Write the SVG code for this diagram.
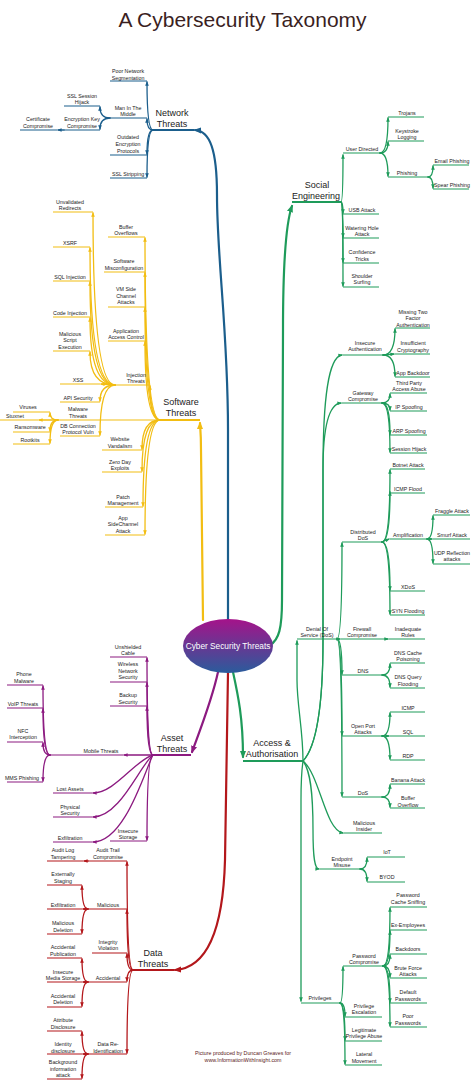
<svg xmlns="http://www.w3.org/2000/svg" width="474" height="1081" viewBox="0 0 474 1081">
<defs>
<linearGradient id="eg" x1="0" y1="0" x2="0" y2="1"><stop offset="0" stop-color="#a5138a"/><stop offset="1" stop-color="#2a5c9c"/></linearGradient>
<marker id="mB" viewBox="0 0 10 10" refX="8" refY="5" markerWidth="3.5" markerHeight="3.5" orient="auto"><path d="M0,1L10,5L0,9z" fill="#1b5e8c"/></marker>
<marker id="mY" viewBox="0 0 10 10" refX="8" refY="5" markerWidth="3.5" markerHeight="3.5" orient="auto"><path d="M0,1L10,5L0,9z" fill="#f2bd12"/></marker>
<marker id="mG" viewBox="0 0 10 10" refX="8" refY="5" markerWidth="3.5" markerHeight="3.5" orient="auto"><path d="M0,1L10,5L0,9z" fill="#1e9b5a"/></marker>
<marker id="mP" viewBox="0 0 10 10" refX="8" refY="5" markerWidth="3.5" markerHeight="3.5" orient="auto"><path d="M0,1L10,5L0,9z" fill="#8c1a80"/></marker>
<marker id="mR" viewBox="0 0 10 10" refX="8" refY="5" markerWidth="3.5" markerHeight="3.5" orient="auto"><path d="M0,1L10,5L0,9z" fill="#b3171b"/></marker>
<style>
.t{font-family:"Liberation Sans",Arial,sans-serif;font-size:5.3px;fill:#222;stroke:none;text-anchor:middle}
.h{font-family:"Liberation Sans",Arial,sans-serif;font-size:9px;fill:#222;stroke:none;text-anchor:middle}
.u{fill:none;stroke-width:1.2}
.u.m{stroke-width:2}
.c path{fill:none;stroke-width:1.3;stroke-linecap:round}
.c path.m{stroke-width:2.2}
.B{stroke:#1b5e8c}.Y{stroke:#f2bd12}.G{stroke:#1e9b5a}.P{stroke:#8c1a80}.R{stroke:#b3171b}
.c.B path{marker-end:url(#mB)}.c.Y path{marker-end:url(#mY)}.c.G path{marker-end:url(#mG)}.c.P path{marker-end:url(#mP)}.c.R path{marker-end:url(#mR)}
</style>
</defs>
<rect width="474" height="1081" fill="#fff"/>
<text id="title" x="242.5" y="27" font-family="Liberation Sans, Arial, sans-serif" font-size="21" fill="#3b1f1f" text-anchor="middle">A Cybersecurity Taxonomy</text>

<g id="connectors">
<g class="c B">
<path class="m" d="M228,620L228,430C228,330 217,260 217,195C217,150 210,131 195,130"/>
<path d="M153,130Q147,130 147,82"/>
<path d="M153,130Q147,130 147,119"/>
<path d="M153,130Q147,130 147,154"/>
<path d="M153,130Q147,130 147,177"/>
<path d="M110,118Q100,118 100,107"/>
<path d="M110,118Q100,118 100,129"/>
<path d="M64,130L58,130"/>
</g>
<g class="c Y">
<path class="m" d="M203,620L201,450C201,432 200,426 200,423"/>
<path d="M160,420Q145,420 145,238"/>
<path d="M160,420Q145,420 145,273"/>
<path d="M160,420Q145,420 145,308"/>
<path d="M160,420Q145,420 145,342"/>
<path d="M160,420Q150,420 150,386"/>
<path d="M160,420Q142,420 142,449"/>
<path d="M160,420Q142,420 142,471"/>
<path d="M160,420Q143,420 143,506"/>
<path d="M160,420Q145,420 145,534"/>
<path d="M115,385Q93,385 93,213"/>
<path d="M115,385Q90,385 90,248"/>
<path d="M115,385Q90,385 90,282"/>
<path d="M115,385Q90,385 90,318"/>
<path d="M115,385Q90,385 90,352"/>
<path d="M115,385L101,384"/>
<path d="M115,385Q100,385 100,401"/>
<path d="M115,385Q100,385 100,435"/>
<path d="M58,420Q50,420 50,413"/>
<path d="M58,420Q50,420 50,431"/>
<path d="M58,420Q50,420 50,443"/>
<path d="M58,420L39,420"/>
</g>
<g class="c G">
<path class="m" d="M270,645C279,640 282,628 282,600L283,330C283,250 287,220 292,206"/>
<path d="M341,202Q343,202 343,155"/>
<path d="M341,202Q343,202 343,213"/>
<path d="M341,202Q343,202 343,237"/>
<path d="M341,202Q343,202 343,262"/>
<path d="M341,202Q343,202 343,286"/>
<path d="M380,153Q388,153 388,118"/>
<path d="M380,153Q388,153 388,142"/>
<path d="M380,153Q388,153 388,176"/>
<path d="M428,177Q433,177 433,166"/>
<path d="M428,177Q433,177 433,188"/>
<path class="m" d="M233,672C238,695 243,718 243,757"/>
<path d="M303,761C318,745 323,700 323,640L323,470C323,400 328,357 342,355"/>
<path d="M303,761C318,745 323,700 323,640L323,470C323,430 328,404 341,403"/>
<path d="M303,761C303,730 297,705 297,680L297,641"/>
<path d="M303,761C320,775 325,830 343,833"/>
<path d="M303,761C310,770 313,790 313,830C313,860 315,869 319,869"/>
<path d="M303,761C301,775 301,790 301,800L301,1001"/>
<path d="M383,355Q395,355 395,329"/>
<path d="M383,355L394,354"/>
<path d="M383,355Q395,355 395,376"/>
<path d="M382,403Q390,403 390,394"/>
<path d="M382,403Q390,403 390,410"/>
<path d="M382,403Q390,403 390,434"/>
<path d="M382,403Q390,403 390,452"/>
<path d="M337,639Q342,639 342,543"/>
<path d="M337,639L340,639"/>
<path d="M337,639Q342,639 342,674"/>
<path d="M337,639Q342,639 342,735"/>
<path d="M337,639Q342,639 342,796"/>
<path d="M385,639L388,639"/>
<path d="M382,542Q390,542 390,470"/>
<path d="M382,542Q390,542 390,492"/>
<path d="M382,542L389,539"/>
<path d="M382,542Q390,542 390,590"/>
<path d="M382,542Q390,542 390,614"/>
<path d="M427,539Q433,539 433,516"/>
<path d="M427,539L432,539"/>
<path d="M427,539Q433,539 433,563"/>
<path d="M382,675Q390,675 390,664"/>
<path d="M382,675Q390,675 390,687"/>
<path d="M382,736Q390,736 390,713"/>
<path d="M382,736L389,736"/>
<path d="M382,736Q390,736 390,759"/>
<path d="M382,797Q390,797 390,785"/>
<path d="M382,797Q390,797 390,807"/>
<path d="M360,869Q367,869 367,858"/>
<path d="M360,869Q367,869 367,881"/>
<path d="M340,1003Q343,1003 343,967"/>
<path d="M340,1003Q345,1003 345,1016"/>
<path d="M340,1003Q345,1003 345,1040"/>
<path d="M340,1003Q345,1003 345,1064"/>
<path d="M383,966Q390,966 390,908"/>
<path d="M383,966Q390,966 390,931"/>
<path d="M383,966Q390,966 390,955"/>
<path d="M383,966Q390,966 390,977"/>
<path d="M383,966Q390,966 390,1002"/>
<path d="M383,966Q390,966 390,1026"/>
</g>
<g class="c P">
<path class="m" d="M218,672C212,700 200,730 192,752"/>
<path d="M153,755Q147,755 147,658"/>
<path d="M153,755Q147,755 147,683"/>
<path d="M153,755Q147,755 147,707"/>
<path d="M153,755L124,755"/>
<path d="M153,755C135,760 115,793 93,793"/>
<path d="M153,755C140,765 120,817 93,817"/>
<path d="M153,755C145,770 125,842 93,842"/>
<path d="M153,755Q147,755 147,840"/>
<path d="M50,755Q43,755 43,686"/>
<path d="M50,755Q43,755 43,709"/>
<path d="M50,755Q43,755 43,743"/>
<path d="M50,755Q43,755 43,781"/>
</g>
<g class="c R">
<path class="m" d="M228,672L225,860C223,935 205,968 175,970"/>
<path d="M133,970Q127,970 127,862"/>
<path d="M133,970Q127,970 127,910"/>
<path d="M133,970Q127,970 127,954"/>
<path d="M133,970Q127,970 127,981"/>
<path d="M133,970Q127,970 127,1053"/>
<path d="M88,861L84,861"/>
<path d="M88,909Q82,909 82,886"/>
<path d="M88,909L83,909"/>
<path d="M88,909Q82,909 82,933"/>
<path d="M88,982Q82,982 82,959"/>
<path d="M88,982L83,982"/>
<path d="M88,982Q82,982 82,1006"/>
<path d="M88,1054Q82,1054 82,1032"/>
<path d="M88,1054L83,1054"/>
<path d="M88,1054Q82,1054 82,1078"/>
</g>
</g>

<g id="center">
<ellipse cx="228" cy="646" rx="45" ry="27" fill="url(#eg)"/>
<text x="228" y="649" font-family="Liberation Sans, Arial, sans-serif" font-size="8.3" fill="#fff" text-anchor="middle">Cyber Security Threats</text>
</g>

<g class="B">
<g id="n-network"><path class="u m" d="M153,130H194"/><text class="h"><tspan x="172" y="116">Network</tspan><tspan x="172" y="127">Threats</tspan></text></g>
<g id="n-poor"><path class="u" d="M110,81H147"/><text class="t"><tspan x="128" y="73">Poor Network</tspan><tspan x="128" y="80">Segmentation</tspan></text></g>
<g id="n-mitm"><path class="u" d="M110,118H147"/><text class="t"><tspan x="128" y="110">Man In The</tspan><tspan x="128" y="116">Middle</tspan></text></g>
<g id="n-outdated"><path class="u" d="M110,155H147"/><text class="t"><tspan x="128" y="139">Outdated</tspan><tspan x="128" y="146">Encryption</tspan><tspan x="128" y="152.5">Protocols</tspan></text></g>
<g id="n-sslstrip"><path class="u" d="M110,178H147"/><text class="t"><tspan x="128" y="176">SSL Stripping</tspan></text></g>
<g id="n-sslhijack"><path class="u" d="M64,106H100"/><text class="t"><tspan x="82" y="98">SSL Session</tspan><tspan x="82" y="104">Hijack</tspan></text></g>
<g id="n-enckey"><path class="u" d="M64,130H100"/><text class="t"><tspan x="82" y="121">Encryption Key</tspan><tspan x="82" y="128">Compromise</tspan></text></g>
<g id="n-cert"><path class="u" d="M20,130H57"/><text class="t"><tspan x="38" y="121">Certificate</tspan><tspan x="38" y="128">Compromise</tspan></text></g>
</g>

<g class="Y">
<g id="n-software"><path class="u m" d="M160,420H200"/><text class="h"><tspan x="181" y="405">Software</tspan><tspan x="181" y="416">Threats</tspan></text></g>
<g id="n-buffer"><path class="u" d="M108,237H145"/><text class="t"><tspan x="126" y="229">Buffer</tspan><tspan x="126" y="235">Overflows</tspan></text></g>
<g id="n-misconfig"><path class="u" d="M104,272H145"/><text class="t"><tspan x="124" y="263">Software</tspan><tspan x="124" y="270">Misconfiguration</tspan></text></g>
<g id="n-vm"><path class="u" d="M108,307H145"/><text class="t"><tspan x="126" y="291">VM Side</tspan><tspan x="126" y="297.5">Channel</tspan><tspan x="126" y="304">Attacks</tspan></text></g>
<g id="n-appaccess"><path class="u" d="M108,341H145"/><text class="t"><tspan x="126" y="333">Application</tspan><tspan x="126" y="339">Access Control</tspan></text></g>
<g id="n-injection"><path class="u" d="M115,385H150"/><text class="t"><tspan x="136" y="377">Injection</tspan><tspan x="136" y="383">Threats</tspan></text></g>
<g id="n-website"><path class="u" d="M102,450H142"/><text class="t"><tspan x="120" y="441">Website</tspan><tspan x="120" y="448">Vandalism</tspan></text></g>
<g id="n-zeroday"><path class="u" d="M102,472H142"/><text class="t"><tspan x="120" y="464">Zero Day</tspan><tspan x="120" y="470">Exploits</tspan></text></g>
<g id="n-patch"><path class="u" d="M105,507H143"/><text class="t"><tspan x="123" y="499">Patch</tspan><tspan x="123" y="505">Management</tspan></text></g>
<g id="n-appside"><path class="u" d="M105,535H145"/><text class="t"><tspan x="123" y="520">App</tspan><tspan x="123" y="526">SideChannel</tspan><tspan x="123" y="533">Attack</tspan></text></g>
<g id="n-malware"><path class="u" d="M58,420H158"/><text class="t"><tspan x="78" y="411">Malware</tspan><tspan x="78" y="418">Threats</tspan></text></g>
<g id="n-viruses"><path class="u" d="M13,412H50"/><text class="t"><tspan x="28" y="409">Viruses</tspan></text></g>
<g id="n-stuxnet"><path class="u" d="M0,420H38"/><text class="t"><tspan x="15" y="418">Stuxnet</tspan></text></g>
<g id="n-ransom"><path class="u" d="M13,432H50"/><text class="t"><tspan x="30" y="429">Ransomware</tspan></text></g>
<g id="n-rootkits"><path class="u" d="M13,444H50"/><text class="t"><tspan x="30" y="442">Rootkits</tspan></text></g>
<g id="n-unvalid"><path class="u" d="M53,212H93"/><text class="t"><tspan x="70" y="204">Unvalidated</tspan><tspan x="70" y="210">Redirects</tspan></text></g>
<g id="n-xsrf"><path class="u" d="M53,247H90"/><text class="t"><tspan x="70" y="245">XSRF</tspan></text></g>
<g id="n-sqli"><path class="u" d="M53,281H90"/><text class="t"><tspan x="70" y="279">SQL Injection</tspan></text></g>
<g id="n-codei"><path class="u" d="M53,317H90"/><text class="t"><tspan x="70" y="315">Code Injection</tspan></text></g>
<g id="n-malscript"><path class="u" d="M53,351H90"/><text class="t"><tspan x="70" y="336">Malicious</tspan><tspan x="70" y="342">Script</tspan><tspan x="70" y="349">Execution</tspan></text></g>
<g id="n-xss"><path class="u" d="M60,384H100"/><text class="t"><tspan x="78" y="382">XSS</tspan></text></g>
<g id="n-api"><path class="u" d="M60,402H100"/><text class="t"><tspan x="78" y="400">API Security</tspan></text></g>
<g id="n-db"><path class="u" d="M60,436H100"/><text class="t"><tspan x="78" y="428">DB Connection</tspan><tspan x="78" y="434">Protocol Vuln</tspan></text></g>
</g>

<g class="G">
<g id="n-social"><path class="u m" d="M292,202H341"/><text class="h"><tspan x="317" y="188">Social</tspan><tspan x="316" y="199">Engineering</tspan></text></g>
<g id="n-userdir"><path class="u" d="M343,153H380"/><text class="t"><tspan x="362" y="151">User  Directed</tspan></text></g>
<g id="n-trojans"><path class="u" d="M388,117H424"/><text class="t"><tspan x="407" y="115">Trojans</tspan></text></g>
<g id="n-keylog"><path class="u" d="M388,141H424"/><text class="t"><tspan x="407" y="133">Keystroke</tspan><tspan x="407" y="139">Logging</tspan></text></g>
<g id="n-phishing"><path class="u" d="M388,177H428"/><text class="t"><tspan x="407" y="175">Phishing</tspan></text></g>
<g id="n-email"><path class="u" d="M433,165H469"/><text class="t"><tspan x="452" y="163">Email Phishing</tspan></text></g>
<g id="n-spear"><path class="u" d="M433,189H469"/><text class="t"><tspan x="452" y="187">Spear Phishing</tspan></text></g>
<g id="n-usb"><path class="u" d="M343,214H379"/><text class="t"><tspan x="362" y="212">USB Attack</tspan></text></g>
<g id="n-watering"><path class="u" d="M343,238H379"/><text class="t"><tspan x="362" y="230">Watering Hole</tspan><tspan x="362" y="236">Attack</tspan></text></g>
<g id="n-confidence"><path class="u" d="M343,263H379"/><text class="t"><tspan x="362" y="254">Confidence</tspan><tspan x="362" y="261">Tricks</tspan></text></g>
<g id="n-shoulder"><path class="u" d="M343,287H379"/><text class="t"><tspan x="362" y="278">Shoulder</tspan><tspan x="362" y="284">Surfing</tspan></text></g>

<g id="n-access"><path class="u m" d="M243,761H303"/><text class="h"><tspan x="272" y="746">Access &amp;</tspan><tspan x="272" y="757">Authorisation</tspan></text></g>
<g id="n-insecauth"><path class="u" d="M343,355H383"/><text class="t"><tspan x="365" y="345">Insecure</tspan><tspan x="365" y="351">Authentication</tspan></text></g>
<g id="n-missing2fa"><path class="u" d="M395,328H430"/><text class="t"><tspan x="413" y="314">Missing Two</tspan><tspan x="413" y="320">Factor</tspan><tspan x="413" y="327">Authentication</tspan></text></g>
<g id="n-insuffcrypto"><path class="u" d="M395,354H430"/><text class="t"><tspan x="413" y="345">Insufficient</tspan><tspan x="413" y="352">Cryptography</tspan></text></g>
<g id="n-appbackdoor"><path class="u" d="M395,377H430"/><text class="t"><tspan x="413" y="375">App Backdoor</tspan></text></g>
<g id="n-gateway"><path class="u" d="M342,403H382"/><text class="t"><tspan x="363" y="395">Gateway</tspan><tspan x="363" y="401">Compromise</tspan></text></g>
<g id="n-thirdparty"><path class="u" d="M390,393H427"/><text class="t"><tspan x="409" y="385">Third Party</tspan><tspan x="409" y="391">Access Abuse</tspan></text></g>
<g id="n-ipspoof"><path class="u" d="M390,411H427"/><text class="t"><tspan x="409" y="409">IP Spoofing</tspan></text></g>
<g id="n-arpspoof"><path class="u" d="M390,435H427"/><text class="t"><tspan x="409" y="433">ARP Spoofing</tspan></text></g>
<g id="n-sesshijack"><path class="u" d="M390,453H427"/><text class="t"><tspan x="409" y="451">Session Hijack</tspan></text></g>
<g id="n-dos"><path class="u" d="M297,639H337"/><text class="t"><tspan x="317" y="631">Denial Of</tspan><tspan x="317" y="637">Service (DoS)</tspan></text></g>
<g id="n-ddos"><path class="u" d="M342,542H382"/><text class="t"><tspan x="363" y="534">Distributed</tspan><tspan x="363" y="540">DoS</tspan></text></g>
<g id="n-botnet"><path class="u" d="M390,469H425"/><text class="t"><tspan x="408" y="467">Botnet Attack</tspan></text></g>
<g id="n-icmpflood"><path class="u" d="M390,493H425"/><text class="t"><tspan x="408" y="491">ICMP Flood</tspan></text></g>
<g id="n-amp"><path class="u" d="M390,539H427"/><text class="t"><tspan x="408" y="537">Amplification</tspan></text></g>
<g id="n-fraggle"><path class="u" d="M433,515H470"/><text class="t"><tspan x="452" y="513">Fraggle Attack</tspan></text></g>
<g id="n-smurf"><path class="u" d="M433,539H470"/><text class="t"><tspan x="452" y="537">Smurf Attack</tspan></text></g>
<g id="n-udp"><path class="u" d="M433,564H470"/><text class="t"><tspan x="452" y="555">UDP Reflection</tspan><tspan x="452" y="561">attacks</tspan></text></g>
<g id="n-xdos"><path class="u" d="M390,591H425"/><text class="t"><tspan x="408" y="589">XDoS</tspan></text></g>
<g id="n-syn"><path class="u" d="M390,615H425"/><text class="t"><tspan x="408" y="613">SYN Flooding</tspan></text></g>
<g id="n-firewall"><path class="u" d="M341,639H385"/><text class="t"><tspan x="362" y="631">Firewall</tspan><tspan x="362" y="637">Compromise</tspan></text></g>
<g id="n-inadequate"><path class="u" d="M389,639H425"/><text class="t"><tspan x="408" y="631">Inadequate</tspan><tspan x="408" y="637">Rules</tspan></text></g>
<g id="n-dns"><path class="u" d="M342,675H382"/><text class="t"><tspan x="363" y="673">DNS</tspan></text></g>
<g id="n-dnscache"><path class="u" d="M390,663H425"/><text class="t"><tspan x="408" y="655">DNS Cache</tspan><tspan x="408" y="661">Poisoning</tspan></text></g>
<g id="n-dnsquery"><path class="u" d="M390,688H425"/><text class="t"><tspan x="408" y="679">DNS Query</tspan><tspan x="408" y="686">Flooding</tspan></text></g>
<g id="n-openport"><path class="u" d="M342,736H382"/><text class="t"><tspan x="363" y="728">Open Port</tspan><tspan x="363" y="734">Attacks</tspan></text></g>
<g id="n-icmp"><path class="u" d="M390,712H425"/><text class="t"><tspan x="408" y="710">ICMP</tspan></text></g>
<g id="n-sql"><path class="u" d="M390,736H425"/><text class="t"><tspan x="408" y="734">SQL</tspan></text></g>
<g id="n-rdp"><path class="u" d="M390,760H425"/><text class="t"><tspan x="408" y="758">RDP</tspan></text></g>
<g id="n-dos2"><path class="u" d="M342,797H382"/><text class="t"><tspan x="363" y="795">DoS</tspan></text></g>
<g id="n-banana"><path class="u" d="M390,784H425"/><text class="t"><tspan x="408" y="782">Banana Attack</tspan></text></g>
<g id="n-bufferov"><path class="u" d="M390,808H425"/><text class="t"><tspan x="408" y="800">Buffer</tspan><tspan x="408" y="807">Overflow</tspan></text></g>
<g id="n-malinsider"><path class="u" d="M344,833H382"/><text class="t"><tspan x="364" y="825">Malicious</tspan><tspan x="364" y="831">Insider</tspan></text></g>
<g id="n-endpoint"><path class="u" d="M320,869H360"/><text class="t"><tspan x="342" y="861">Endpoint</tspan><tspan x="342" y="867">Misuse</tspan></text></g>
<g id="n-iot"><path class="u" d="M367,857H405"/><text class="t"><tspan x="387" y="854">IoT</tspan></text></g>
<g id="n-byod"><path class="u" d="M367,882H405"/><text class="t"><tspan x="387" y="879">BYOD</tspan></text></g>
<g id="n-privileges"><path class="u" d="M301,1003H340"/><text class="t"><tspan x="320" y="1000">Privileges</tspan></text></g>
<g id="n-pwcomp"><path class="u" d="M343,966H383"/><text class="t"><tspan x="364" y="958">Password</tspan><tspan x="364" y="964">Compromise</tspan></text></g>
<g id="n-pwcache"><path class="u" d="M390,907H427"/><text class="t"><tspan x="408" y="897">Password</tspan><tspan x="408" y="904">Cache Sniffing</tspan></text></g>
<g id="n-exemp"><path class="u" d="M390,930H427"/><text class="t"><tspan x="408" y="927">Ex-Employees</tspan></text></g>
<g id="n-backdoors"><path class="u" d="M390,954H427"/><text class="t"><tspan x="408" y="951">Backdoors</tspan></text></g>
<g id="n-brute"><path class="u" d="M390,978H427"/><text class="t"><tspan x="408" y="970">Brute Force</tspan><tspan x="408" y="976">Attacks</tspan></text></g>
<g id="n-default"><path class="u" d="M390,1003H427"/><text class="t"><tspan x="408" y="994">Default</tspan><tspan x="408" y="1001">Passwords</tspan></text></g>
<g id="n-poorpw"><path class="u" d="M390,1027H427"/><text class="t"><tspan x="408" y="1018">Poor</tspan><tspan x="408" y="1025">Passwords</tspan></text></g>
<g id="n-privesc"><path class="u" d="M345,1017H382"/><text class="t"><tspan x="364" y="1008">Privilege</tspan><tspan x="364" y="1014">Escalation</tspan></text></g>
<g id="n-legit"><path class="u" d="M345,1041H382"/><text class="t"><tspan x="364" y="1032">Legitimate</tspan><tspan x="364" y="1038">Privilege Abuse</tspan></text></g>
<g id="n-lateral"><path class="u" d="M345,1065H382"/><text class="t"><tspan x="364" y="1056">Lateral</tspan><tspan x="364" y="1063">Movement</tspan></text></g>
</g>

<g class="P">
<g id="n-asset"><path class="u m" d="M153,755H191"/><text class="h"><tspan x="172" y="741">Asset</tspan><tspan x="172" y="752">Threats</tspan></text></g>
<g id="n-unshielded"><path class="u" d="M110,657H147"/><text class="t"><tspan x="128" y="649">Unshielded</tspan><tspan x="128" y="655">Cable</tspan></text></g>
<g id="n-wireless"><path class="u" d="M110,682H147"/><text class="t"><tspan x="128" y="666">Wireless</tspan><tspan x="128" y="673">Network</tspan><tspan x="128" y="679">Security</tspan></text></g>
<g id="n-backup"><path class="u" d="M110,706H147"/><text class="t"><tspan x="128" y="697">Backup</tspan><tspan x="128" y="704">Security</tspan></text></g>
<g id="n-mobile"><path class="u" d="M50,755H123"/><text class="t"><tspan x="101" y="753">Mobile Threats</tspan></text></g>
<g id="n-phone"><path class="u" d="M7,685H43"/><text class="t"><tspan x="24" y="676">Phone</tspan><tspan x="24" y="683">Malware</tspan></text></g>
<g id="n-voip"><path class="u" d="M7,708H43"/><text class="t"><tspan x="23" y="706">VoIP Threats</tspan></text></g>
<g id="n-nfc"><path class="u" d="M7,742H43"/><text class="t"><tspan x="23" y="733">NFC</tspan><tspan x="23" y="739">Interception</tspan></text></g>
<g id="n-mms"><path class="u" d="M7,782H43"/><text class="t"><tspan x="22" y="780">MMS Phishing</tspan></text></g>
<g id="n-lost"><path class="u" d="M53,793H92"/><text class="t"><tspan x="70" y="791">Lost Assets</tspan></text></g>
<g id="n-physical"><path class="u" d="M53,817H92"/><text class="t"><tspan x="70" y="809">Physical</tspan><tspan x="70" y="815">Security</tspan></text></g>
<g id="n-exfil"><path class="u" d="M53,842H92"/><text class="t"><tspan x="70" y="840">Exfiltration</tspan></text></g>
<g id="n-insecstorage"><path class="u" d="M110,841H147"/><text class="t"><tspan x="128" y="833">Insecure</tspan><tspan x="128" y="839">Storage</tspan></text></g>
</g>

<g class="R">
<g id="n-data"><path class="u m" d="M133,970H174"/><text class="h"><tspan x="153" y="956">Data</tspan><tspan x="153" y="967">Threats</tspan></text></g>
<g id="n-audittrail"><path class="u" d="M88,861H127"/><text class="t"><tspan x="108" y="852">Audit Trail</tspan><tspan x="108" y="859">Compromise</tspan></text></g>
<g id="n-auditlog"><path class="u" d="M47,861H83"/><text class="t"><tspan x="63" y="852">Audit Log</tspan><tspan x="63" y="859">Tampering</tspan></text></g>
<g id="n-malicious"><path class="u" d="M88,909H127"/><text class="t"><tspan x="108" y="907">Malicious</tspan></text></g>
<g id="n-extstaging"><path class="u" d="M47,885H82"/><text class="t"><tspan x="63" y="876">Externally</tspan><tspan x="63" y="883">Staging</tspan></text></g>
<g id="n-exfil2"><path class="u" d="M47,909H82"/><text class="t"><tspan x="63" y="907">Exfiltration</tspan></text></g>
<g id="n-maldel"><path class="u" d="M47,934H82"/><text class="t"><tspan x="63" y="925">Malicious</tspan><tspan x="63" y="932">Deletion</tspan></text></g>
<g id="n-integrity"><path class="u" d="M92,953H127"/><text class="t"><tspan x="108" y="944">Integrity</tspan><tspan x="108" y="950">Violation</tspan></text></g>
<g id="n-accidental"><path class="u" d="M88,982H127"/><text class="t"><tspan x="108" y="980">Accidental</tspan></text></g>
<g id="n-accpub"><path class="u" d="M47,958H82"/><text class="t"><tspan x="63" y="949">Accidental</tspan><tspan x="63" y="956">Publication</tspan></text></g>
<g id="n-insecmedia"><path class="u" d="M47,982H82"/><text class="t"><tspan x="63" y="974">Insecure</tspan><tspan x="63" y="980">Media Storage</tspan></text></g>
<g id="n-accdel"><path class="u" d="M47,1007H82"/><text class="t"><tspan x="63" y="998">Accidental</tspan><tspan x="63" y="1004">Deletion</tspan></text></g>
<g id="n-reid"><path class="u" d="M88,1054H127"/><text class="t"><tspan x="108" y="1046">Data Re-</tspan><tspan x="108" y="1053">Identification</tspan></text></g>
<g id="n-attr"><path class="u" d="M47,1031H82"/><text class="t"><tspan x="63" y="1022">Attribute</tspan><tspan x="63" y="1029">Disclosure</tspan></text></g>
<g id="n-identity"><path class="u" d="M47,1054H82"/><text class="t"><tspan x="63" y="1046">Identity</tspan><tspan x="63" y="1053">disclosure</tspan></text></g>
<g id="n-background"><path class="u" d="M47,1079H82"/><text class="t"><tspan x="63" y="1064">Background</tspan><tspan x="63" y="1071">information</tspan><tspan x="63" y="1077">attack</tspan></text></g>
</g>

<g id="credit"><text class="t" style="fill:#5a2020"><tspan x="243" y="1055">Picture produced by Duncan Greaves for</tspan><tspan x="243" y="1062">www.InformationWithInsight.com</tspan></text></g>
</svg>
